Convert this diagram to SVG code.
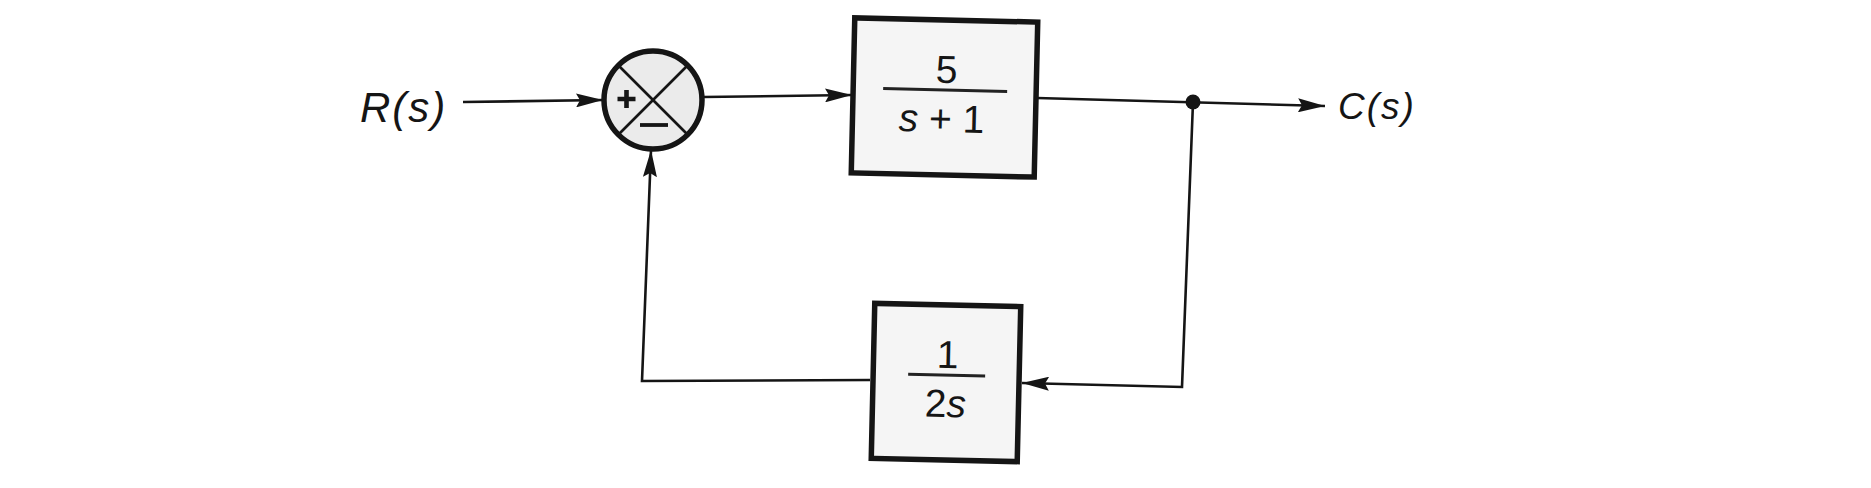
<svg xmlns="http://www.w3.org/2000/svg" width="1871" height="488" viewBox="0 0 1871 488">
<defs>
<style>
.ln{stroke:#151515;stroke-width:2.6;fill:none}
.box{fill:#f5f5f5;stroke:#151515;stroke-width:5.5}
.t{font-family:"Liberation Sans",Arial,sans-serif;fill:#151515}
.it{font-style:italic}
.fr{font-size:39px}
.bar{stroke:#222;stroke-width:3}
</style>
<marker id="ah" viewBox="0 0 27 14" refX="27" refY="7" markerWidth="27" markerHeight="14" markerUnits="userSpaceOnUse" orient="auto">
<path d="M0,0 L27,7 L0,14 L4,7 Z" fill="#151515"/>
</marker>
</defs>
<rect width="1871" height="488" fill="#ffffff"/>
<g id="connectors">
<line class="ln" x1="463" y1="102" x2="603" y2="100" marker-end="url(#ah)"/>
<line class="ln" x1="703" y1="97" x2="852" y2="95" marker-end="url(#ah)"/>
<line class="ln" x1="1037" y1="98" x2="1325" y2="106" marker-end="url(#ah)"/>
<polyline class="ln" points="1193,102 1182,387 1022,383" marker-end="url(#ah)"/>
<polyline class="ln" points="870,380 642,381 651,150" marker-end="url(#ah)"/>
<circle cx="1193" cy="102" r="7.5" fill="#151515"/>
</g>
<g id="R">
<text class="t it" font-size="42" letter-spacing="2" x="360" y="122">R(s)</text>
</g>
<g id="sum">
<circle cx="653" cy="100" r="49" fill="#ebebeb" stroke="#151515" stroke-width="5.5"/>
<line class="ln" stroke-width="3.5" x1="618" y1="65" x2="688" y2="135"/>
<line class="ln" stroke-width="3.5" x1="688" y1="65" x2="618" y2="135"/>
<path d="M617.5,99 H635.5 M626.5,90 V108" stroke="#151515" stroke-width="4.6" fill="none"/>
<line stroke="#151515" stroke-width="3.8" x1="640" y1="125" x2="668" y2="125"/>
</g>
<g id="G1" transform="rotate(1.3 945 97)">
<rect class="box" x="853" y="20" width="183" height="155"/>
<text class="t fr" x="946" y="83" text-anchor="middle">5</text>
<line class="bar" x1="883" y1="90" x2="1007" y2="90"/>
<text class="t fr" x="942" y="132" text-anchor="middle"><tspan class="it">s</tspan> + 1</text>
</g>
<g id="H" transform="rotate(1.3 946 382)">
<rect class="box" x="873" y="305" width="146" height="155"/>
<text class="t fr" x="947" y="368" text-anchor="middle">1</text>
<line class="bar" x1="908" y1="375" x2="985" y2="375"/>
<text class="t fr" x="946" y="417" text-anchor="middle">2<tspan class="it">s</tspan></text>
</g>
<g id="C">
<text class="t it" font-size="37" letter-spacing="2" x="1338" y="119">C(s)</text>
</g>
</svg>
